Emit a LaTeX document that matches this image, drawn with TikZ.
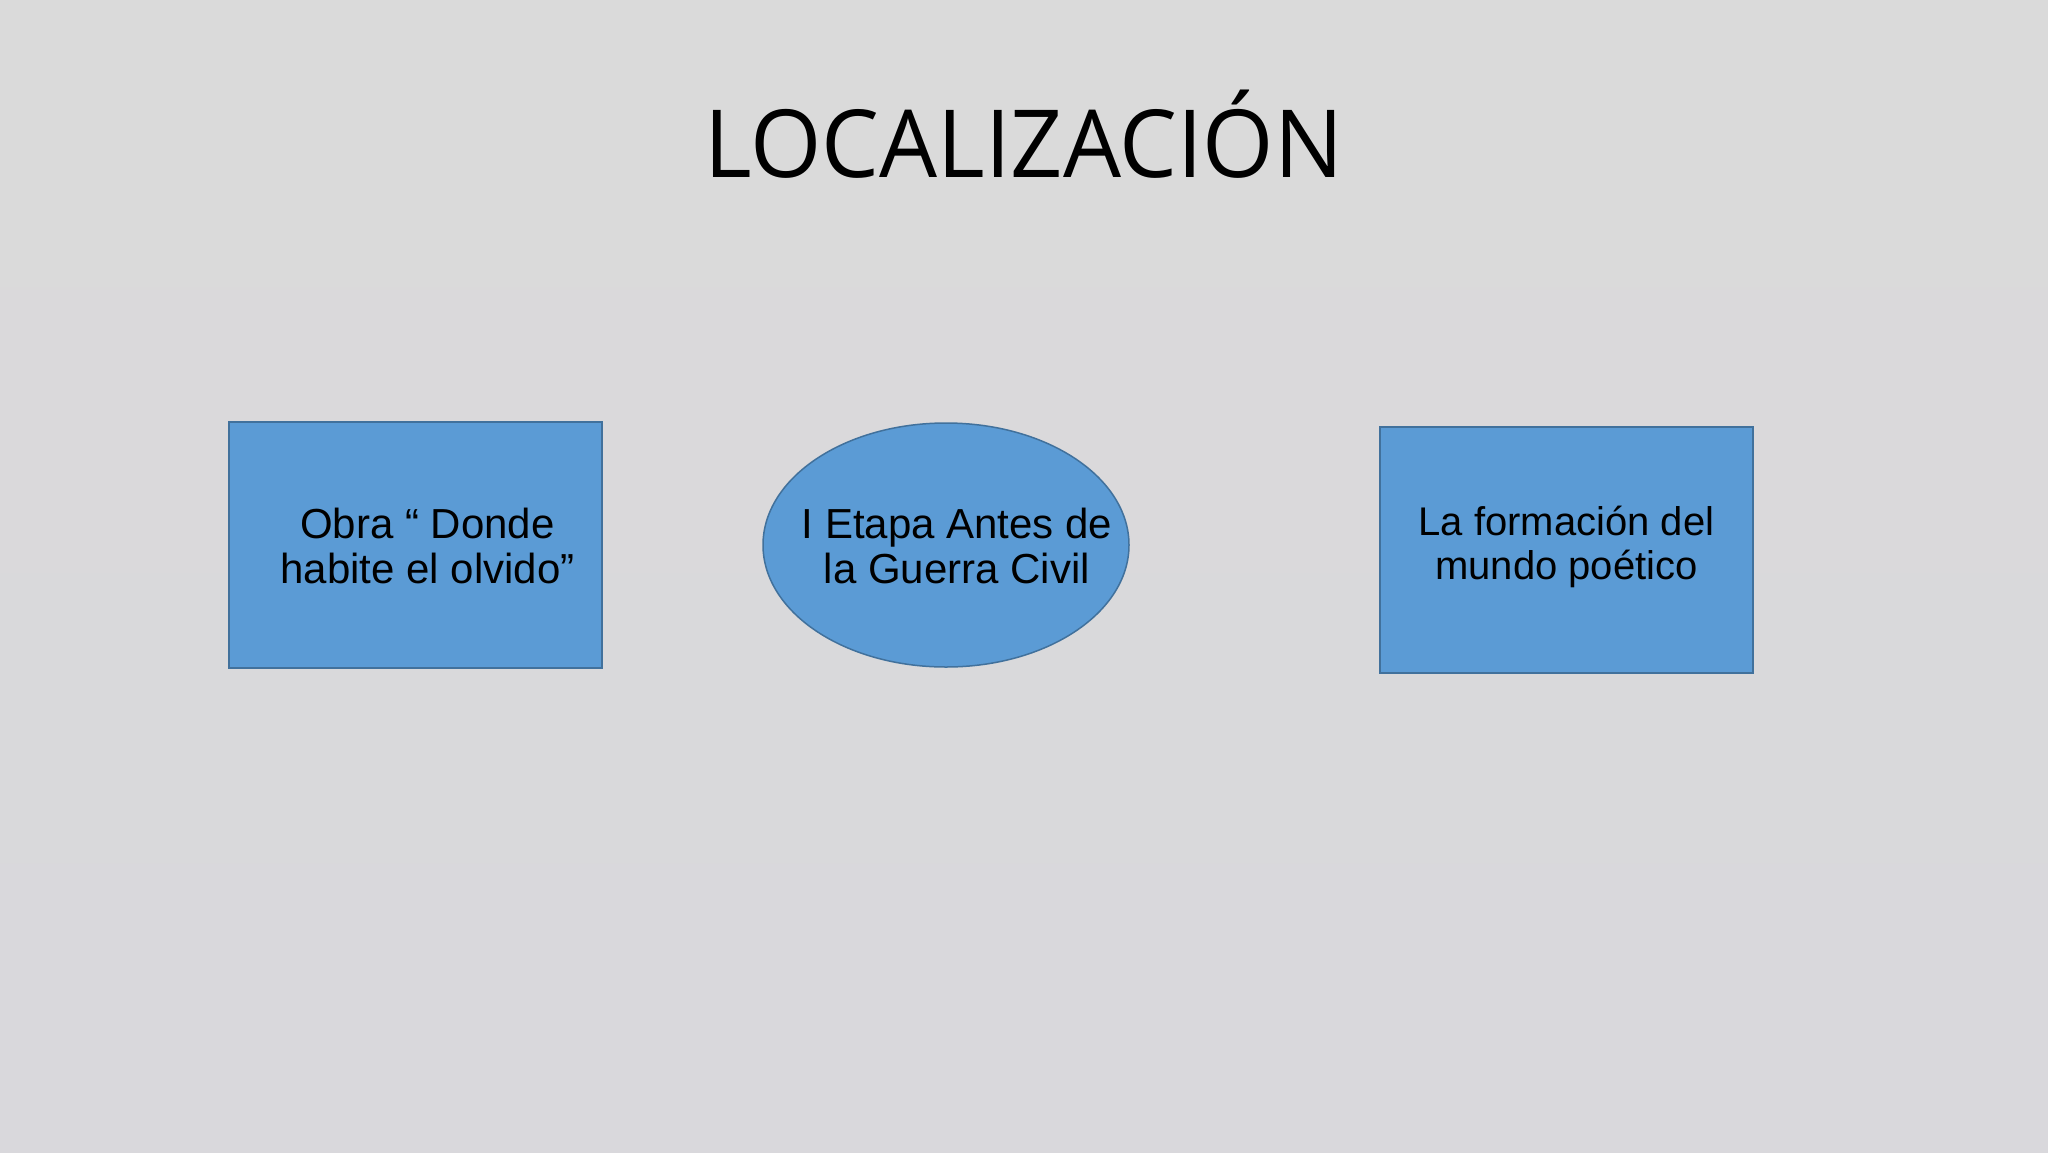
\documentclass[tikz,border=0pt]{standalone}
\usepackage{fontspec}
\setmainfont{Liberation Sans}
\newfontfamily\titlefont{Open Sans}
\usetikzlibrary{shapes.geometric}
\definecolor{bgtop}{HTML}{DADADA}
\definecolor{bgbot}{HTML}{D9D8DC}
\definecolor{boxfill}{HTML}{5B9BD5}
\definecolor{boxline}{HTML}{41719C}
\tikzset{
  shapebox/.style={draw=boxline, fill=boxfill, line width=1.5pt, inner sep=0pt},
  boxtext/.style={anchor=base, inner sep=0pt, font=\fontsize{42}{46}\selectfont},
  boxtextsmall/.style={anchor=base, inner sep=0pt, font=\fontsize{40}{44}\selectfont},
}
\begin{document}
\begin{tikzpicture}[x=1pt,y=-1pt]
\shade[top color=bgtop, bottom color=bgbot] (0,0) rectangle (2048,1152);
\useasboundingbox (0,0) rectangle (2048,1152);

\node[anchor=base, inner sep=0pt, xscale=0.975, font=\titlefont\fontsize{94}{100}\selectfont] (title) at (1024,177) {LOCALIZACIÓN};

\node[shapebox, rectangle, minimum width=373pt, minimum height=246pt] (obra) at (415.5,545) {};
\node[boxtext] (obra1) at (427.5,538) {Obra “ Donde};
\node[boxtext] (obra2) at (427.5,583.5) {habite el olvido”};

\node[shapebox, ellipse, minimum width=366pt, minimum height=244pt] (etapa) at (946,545) {};
\node[boxtext] (etapa1) at (957,538) {I Etapa Antes de};
\node[boxtext] (etapa2) at (957,583.5) {la Guerra Civil};

\node[shapebox, rectangle, minimum width=373pt, minimum height=246pt] (form) at (1566.5,550) {};
\node[boxtextsmall] (form1) at (1566.5,535) {La formación del};
\node[boxtextsmall] (form2) at (1566.5,579) {mundo poético};
\end{tikzpicture}
\end{document}
